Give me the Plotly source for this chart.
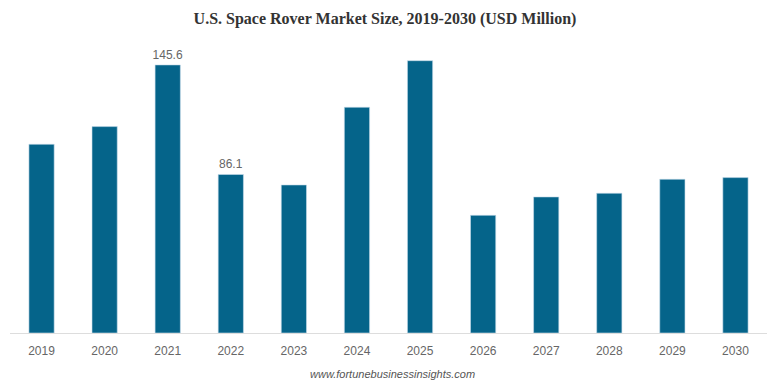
import plotly.graph_objects as go

years = ["2019", "2020", "2021", "2022", "2023", "2024", "2025", "2026", "2027", "2028", "2029", "2030"]
values = [102.5, 112.1, 145.6, 86.1, 80.4, 122.6, 147.9, 63.9, 73.9, 75.9, 83.5, 84.4]
labeled_years = ["2021", "2022"]

labels = [f"{v:.1f}" if y in labeled_years else "" for y, v in zip(years, values)]

fig = go.Figure(go.Bar(
    x=years, y=values,
    marker=dict(color="#05648a", line=dict(color="rgba(200,220,235,0.6)", width=1)),
    text=labels, textposition="outside", cliponaxis=False, constraintext="none",
    textfont=dict(family="Liberation Sans, Arial", size=12, color="#666666"),
))

fig.update_layout(
    width=770, height=385,
    margin=dict(l=10, r=3, t=50, b=52),
    paper_bgcolor="white", plot_bgcolor="white",
    bargap=0.6,
    showlegend=False,
    title=dict(text="<b>U.S. Space Rover Market Size, 2019-2030 (USD Million)</b>",
               x=0.5, xanchor="center", y=0.953, yanchor="middle",
               font=dict(family="Liberation Serif, Times New Roman", size=16, color="#333333")),
    xaxis=dict(showline=True, linecolor="#dddddd", linewidth=1, ticks="",
               ticklabelstandoff=7,
               tickfont=dict(family="Liberation Sans, Arial", size=12, color="#666666"),
               showgrid=False),
    yaxis=dict(range=[0, 153.7], visible=False, showgrid=False, zeroline=False),
    annotations=[dict(text="<i>www.fortunebusinessinsights.com</i>", xref="paper", yref="paper",
                      x=0.505, y=-0.145, xanchor="center", yanchor="middle", showarrow=False,
                      font=dict(family="Liberation Sans, Arial", size=11, color="#555555"))],
)

fig.write_html("out.html", config={"displayModeBar": False},
               post_script="document.body.style.margin='0';document.body.style.overflow='hidden';")
